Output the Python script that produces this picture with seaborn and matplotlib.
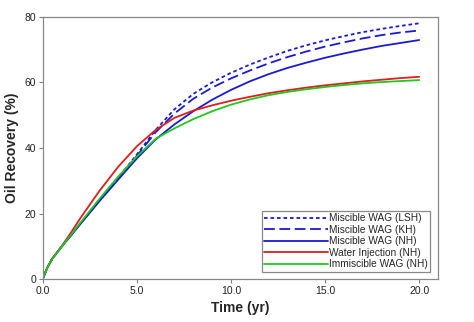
import matplotlib
matplotlib.use("Agg")
import matplotlib.pyplot as plt
import seaborn as sns
import pandas as pd

time_yr = [0, 0.25, 0.5, 1, 1.5, 2, 3, 4, 5, 6, 7, 8, 9, 10, 11, 12, 13, 14, 15, 16, 17, 18, 19, 20]

miscible_lsh = [0, 3.6, 6.2, 9.9, 13.4, 17.0, 24.0, 30.8, 38.0, 45.5, 51.8, 56.5, 60.0, 62.9, 65.4, 67.6, 69.6, 71.3, 72.8, 74.1, 75.3, 76.3, 77.2, 78.0]
miscible_kh = [0, 3.6, 6.2, 9.9, 13.4, 17.0, 23.9, 30.6, 37.6, 44.8, 50.5, 55.0, 58.4, 61.2, 63.6, 65.8, 67.7, 69.4, 70.9, 72.2, 73.4, 74.4, 75.2, 75.8]
miscible_nh = [0, 3.6, 6.2, 9.9, 13.3, 16.8, 23.7, 30.3, 36.8, 42.6, 47.2, 51.2, 54.7, 57.7, 60.3, 62.5, 64.4, 66.0, 67.5, 68.8, 70.0, 71.1, 72.0, 72.9]
water_inj = [0, 3.6, 6.2, 10.0, 14.2, 18.6, 26.8, 34.2, 40.5, 45.5, 49.2, 51.4, 53.0, 54.4, 55.6, 56.7, 57.6, 58.4, 59.1, 59.7, 60.3, 60.8, 61.3, 61.7]
immiscible_nh = [0, 3.6, 6.2, 9.9, 13.5, 17.2, 24.4, 31.2, 37.4, 42.8, 46.0, 48.8, 51.2, 53.2, 54.8, 56.1, 57.1, 57.9, 58.6, 59.2, 59.7, 60.1, 60.4, 60.7]

labels = ["Miscible WAG (LSH)", "Miscible WAG (KH)", "Miscible WAG (NH)",
          "Water Injection (NH)", "Immiscible WAG (NH)"]
x_ticks = [0, 5, 10, 15, 20]
y_ticks = [0, 20, 40, 60, 80]

sns.set_style("white")
plt.rcParams['font.family'] = ['Liberation Sans', 'DejaVu Sans']

fig = plt.figure(figsize=(4.74, 3.22), dpi=100)
ax = fig.add_axes([0.090, 0.1326, 0.834, 0.8154])

series = [miscible_lsh, miscible_kh, miscible_nh, water_inj, immiscible_nh]
colors = ["#1a1ad0", "#1a1ad0", "#1a1ad0", "#e01c1c", "#1ec81e"]
styles = [(0, (2.0, 1.6)), (0, (6, 2.5)), "-", "-", "-"]
for vals, lab, c, ls in zip(series, labels, colors, styles):
    df = pd.DataFrame({"t": time_yr, "r": vals})
    sns.lineplot(data=df, x="t", y="r", ax=ax, color=c, linestyle=ls,
                 linewidth=1.3, label=lab)

ax.set_xlim(0, 21)
ax.set_ylim(0, 80)
ax.set_xticks(x_ticks)
ax.set_xticklabels([f"{v:.1f}" for v in x_ticks])
ax.set_yticks(y_ticks)
ax.set_yticklabels([str(v) for v in y_ticks])
ax.tick_params(axis="both", direction="out", length=3, width=0.8, color="#808080",
               labelsize=7.5, labelcolor="#222222", pad=1.5)
ax.tick_params(axis="both", which="both", bottom=True, left=True, top=False, right=False)
for s in ax.spines.values():
    s.set_color("#888888")
    s.set_linewidth(0.9)

ax.set_xlabel("Time (yr)", fontsize=10, fontweight="bold", labelpad=4)
ax.set_ylabel("Oil Recovery (%)", fontsize=10, fontweight="bold", labelpad=4)

leg = ax.legend(loc="lower right", bbox_to_anchor=(0.98, 0.029), borderaxespad=0,
                fontsize=7.3, handlelength=6.3, handletextpad=0.05, labelspacing=0.14,
                borderpad=0.25, fancybox=False, framealpha=1, edgecolor="#888888")
leg.get_frame().set_linewidth(0.9)

fig.savefig("out.png", dpi=100)
